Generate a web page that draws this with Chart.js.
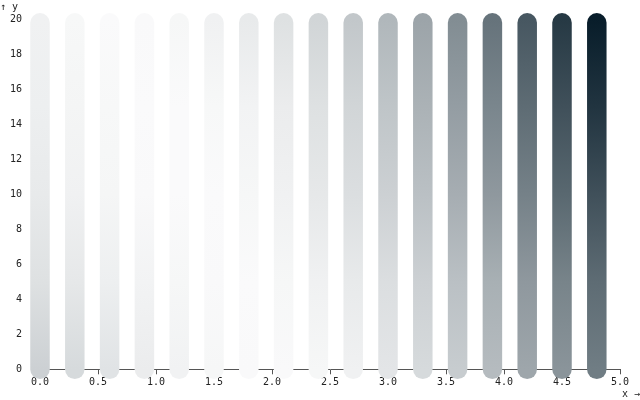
<!DOCTYPE html>
<html>
<head>
<meta charset="utf-8">
<script src="https://cdn.jsdelivr.net/npm/chart.js@4"></script>
<style>
  html, body { margin: 0; padding: 0; background: #fff; }
</style>
</head>
<body>
<canvas id="chart" width="640" height="400"></canvas>
<script>
// x position of every stripe
const xs = [0, 0.3, 0.6, 0.9, 1.2, 1.5, 1.8, 2.1, 2.4, 2.7, 3.0, 3.3, 3.6, 3.9, 4.2, 4.5, 4.8];
const yFrom = 0;
const yTo = 19.8;

// y levels where the colour value was read, and the value (0 = white, 1 = darkest) per stripe
const shadeLevels = [0, 5, 10, 15, 20];
const shadeAt0  = [0.20, 0.16, 0.12, 0.08, 0.055, 0.035, 0.025, 0.025, 0.035, 0.06, 0.11, 0.16, 0.22, 0.29, 0.38, 0.46, 0.56];
const shadeAt5  = [0.13, 0.10, 0.07, 0.05, 0.035, 0.025, 0.02, 0.035, 0.06, 0.09, 0.14, 0.20, 0.27, 0.34, 0.44, 0.53, 0.63];
const shadeAt10 = [0.09, 0.06, 0.04, 0.025, 0.02, 0.02, 0.035, 0.06, 0.10, 0.14, 0.20, 0.27, 0.35, 0.44, 0.54, 0.65, 0.75];
const shadeAt15 = [0.07, 0.045, 0.03, 0.02, 0.02, 0.03, 0.05, 0.08, 0.13, 0.18, 0.25, 0.33, 0.42, 0.52, 0.63, 0.75, 0.87];
const shadeAt20 = [0.06, 0.03, 0.02, 0.025, 0.035, 0.06, 0.09, 0.13, 0.18, 0.24, 0.31, 0.39, 0.49, 0.60, 0.72, 0.85, 0.97];

// x tick labels
const xTicks = [0, 0.5, 1, 1.5, 2, 2.5, 3, 3.5, 4, 4.5, 5];

const FONT = 'DejaVu Sans Mono';
const TEXT = '#222';
const AXIS = '#555';
const DARK = [0, 22, 35];

function shadeColor(t) {
    const r = Math.round(255 + (DARK[0] - 255) * t);
    const g = Math.round(255 + (DARK[1] - 255) * t);
    const b = Math.round(255 + (DARK[2] - 255) * t);
    return `rgb(${r}, ${g}, ${b})`;
}

const shadeRows = [shadeAt0, shadeAt5, shadeAt10, shadeAt15, shadeAt20];

function stripeGradient(context, i) {
    const chart = context.chart;
    if (!chart.chartArea) return shadeColor(shadeAt10[i]);
    const y = chart.scales.y;
    const y0 = y.getPixelForValue(shadeLevels[0]);
    const y1 = y.getPixelForValue(shadeLevels[shadeLevels.length - 1]);
    const grad = chart.ctx.createLinearGradient(0, y0, 0, y1);
    const span = shadeLevels[shadeLevels.length - 1] - shadeLevels[0];
    shadeLevels.forEach((lvl, k) => {
        grad.addColorStop((lvl - shadeLevels[0]) / span, shadeColor(shadeRows[k][i]));
    });
    return grad;
}

const datasets = xs.map((x, i) => ({
    data: [{ x: x, y: yFrom }, { x: x, y: yTo }],
    borderColor: ctx => stripeGradient(ctx, i),
    borderWidth: 19.5,
    borderCapStyle: 'round',
    pointRadius: 0,
    fill: false,
    clip: false
}));

// axis names in the corners
const axisNames = {
    id: 'axisNames',
    afterDraw(chart) {
        const c = chart.ctx;
        c.save();
        c.font = `10px "${FONT}"`;
        c.fillStyle = TEXT;
        c.textBaseline = 'middle';
        c.textAlign = 'left';
        c.fillText('↑ y', 0, 7);
        c.textAlign = 'right';
        c.fillText('x →', 640, 394);
        c.restore();
    }
};

new Chart(document.getElementById('chart'), {
    type: 'line',
    data: { datasets: datasets },
    options: {
        responsive: false,
        animation: false,
        layout: { padding: { top: 19.3, right: 20, left: 0, bottom: 0 } },
        plugins: {
            legend: { display: false },
            tooltip: { enabled: false }
        },
        scales: {
            x: {
                type: 'linear',
                min: 0,
                max: 5,
                afterBuildTicks: scale => {
                    scale.ticks = xTicks.map(v => ({ value: v }));
                },
                afterFit: scale => { scale.height = 30.7; },
                ticks: {
                    callback: v => Number(v).toFixed(1),
                    font: { family: FONT, size: 10 },
                    color: TEXT,
                    padding: 2,
                    maxRotation: 0,
                    autoSkip: false
                },
                grid: {
                    display: true,
                    drawOnChartArea: false,
                    drawTicks: true,
                    tickLength: 5,
                    color: AXIS
                },
                border: { display: true, color: AXIS, width: 1 }
            },
            y: {
                type: 'linear',
                min: 0,
                max: 20,
                afterFit: scale => { scale.width = 40; },
                ticks: {
                    stepSize: 2,
                    font: { family: FONT, size: 10 },
                    color: TEXT,
                    padding: 10
                },
                grid: { display: false },
                border: { display: false }
            }
        }
    },
    plugins: [axisNames]
});
</script>
</body>
</html>
